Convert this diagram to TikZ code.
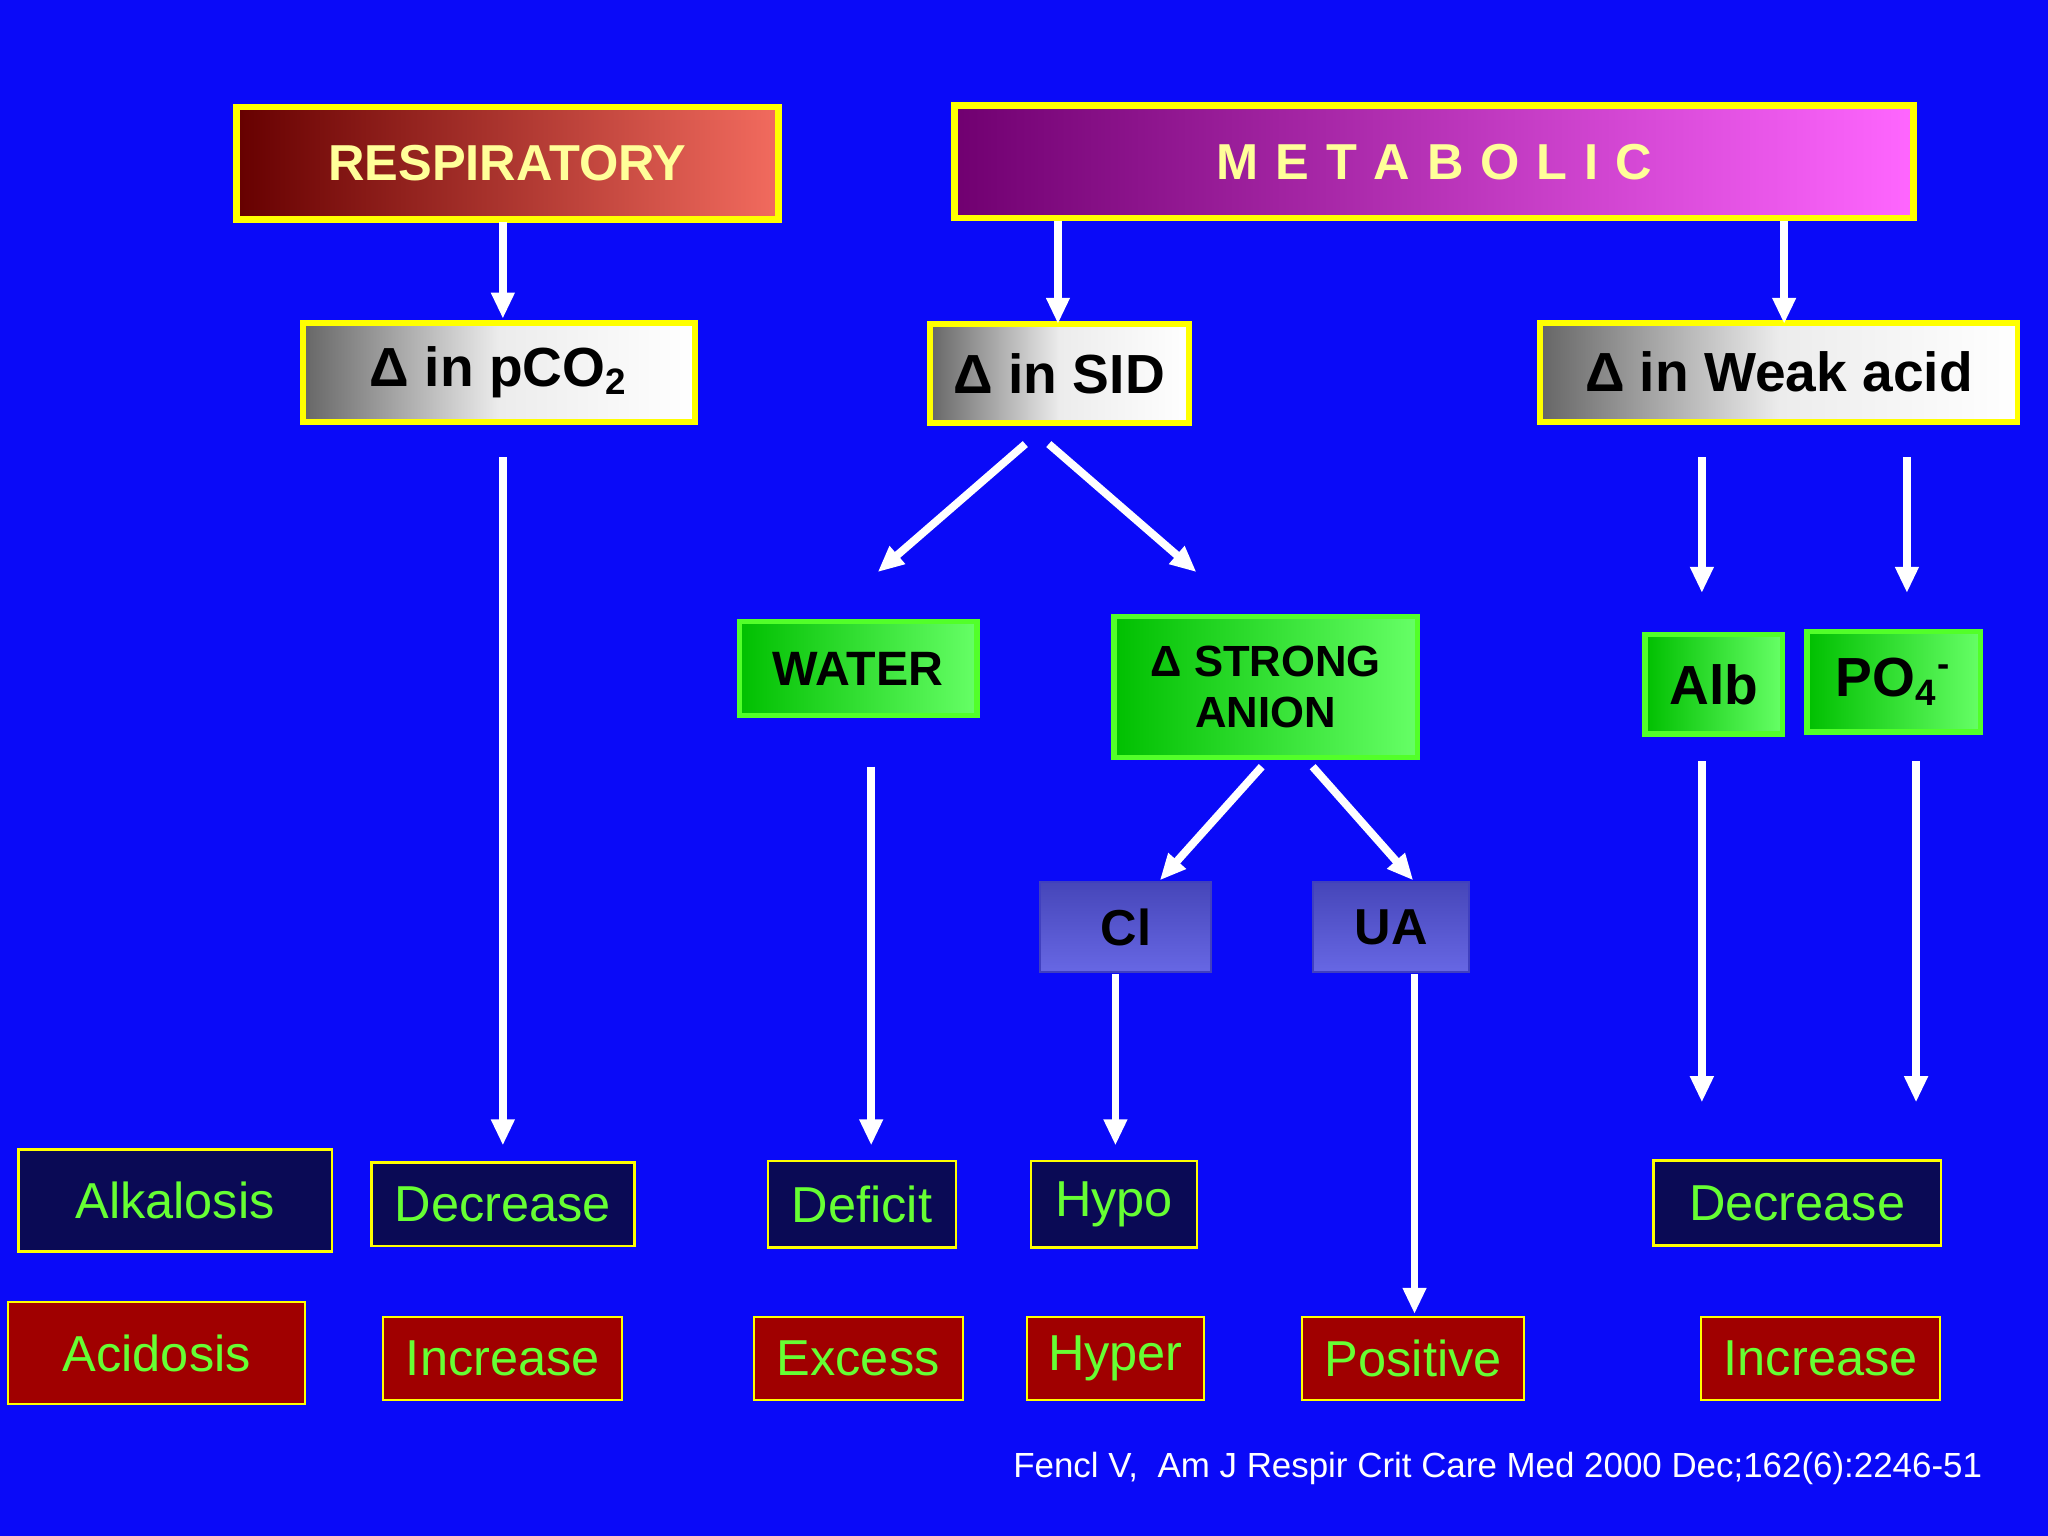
\documentclass[tikz,border=0pt]{standalone}
\usepackage{fontspec}
\setmainfont{Liberation Sans}
\usetikzlibrary{arrows.meta}
\definecolor{bg}{HTML}{0A0AF8}
\definecolor{ylw}{HTML}{FFFF00}
\definecolor{pale}{HTML}{FFFF99}
\definecolor{grn}{HTML}{66FF33}
\definecolor{navy}{HTML}{0A0A55}
\definecolor{dred}{HTML}{A00000}
\begin{document}
\begin{tikzpicture}[x=0.01cm,y=-0.01cm,
  hdr/.style={draw=ylw,line width=0.5mm,font=\bfseries\fontsize{11}{12}\selectfont,text=pale},
  gray/.style={draw=ylw,line width=0.45mm,left color=gray!80!black,right color=white,middle color=white!85!gray,font=\bfseries\fontsize{12}{13}\selectfont,text=black},
  gbox/.style={draw=grn!80!green,line width=0.4mm,left color=green!75!black,right color=green!60!white,font=\bfseries\fontsize{10.5}{12}\selectfont,text=black,align=center},
  bbox/.style={draw=blue!50!gray,line width=0.15mm,top color=blue!45!gray,bottom color=blue!70!gray!70!white,font=\bfseries\fontsize{11}{12}\selectfont,text=black},
  nbox/.style={draw=ylw,line width=0.2mm,fill=navy,text=grn,font=\fontsize{11}{12}\selectfont},
  rbox/.style={draw=ylw,line width=0.15mm,fill=dred,text=grn,font=\fontsize{11}{12}\selectfont},
  arr/.style={draw=white,line width=0.6mm,-{Triangle[length=2mm,width=1.7mm]}}]
\fill[bg] (0,0) rectangle (1568,1176);
\path[use as bounding box] (0,0) rectangle (1568,1176);
% headers
\node[hdr,left color=red!40!black,right color=red!60!white!80!brown,minimum width=4.15cm,minimum height=0.86cm] (resp) at (388.5,125) {RESPIRATORY};
\node[hdr,left color=violet!60!black!80!magenta,right color=magenta!60!white,minimum width=7.34cm,minimum height=0.86cm] (meta) at (1098,124) {M\,\,E\,\,T\,\,A\,\,B\,\,O\,\,L\,\,I\,\,C};
\node[gray,minimum width=3.0cm,minimum height=0.76cm] (pco) at (382,285) {Δ in pCO\textsubscript{2}};
\node[gray,minimum width=1.98cm,minimum height=0.76cm] (sid) at (811,286) {Δ in SID};
\node[gray,minimum width=3.65cm,minimum height=0.76cm] (weak) at (1362,285) {Δ in Weak acid};
\node[gbox,minimum width=1.82cm,minimum height=0.72cm] (water) at (657,512) {WATER};
\node[gbox,minimum width=2.32cm,minimum height=1.08cm,font=\bfseries\fontsize{9.5}{11}\selectfont] (sa) at (969,526) {Δ STRONG\\ANION};
\node[gbox,minimum width=1.05cm,minimum height=0.76cm,font=\bfseries\fontsize{12}{13}\selectfont] (alb) at (1312,524) {Alb};
\node[gbox,minimum width=1.33cm,minimum height=0.77cm,font=\bfseries\fontsize{12}{13}\selectfont] (po) at (1450,522) {PO\textsubscript{4}\textsuperscript{-}};
\node[bbox,minimum width=1.31cm,minimum height=0.69cm] (cl) at (862,710) {Cl};
\node[bbox,minimum width=1.2cm,minimum height=0.69cm] (ua) at (1065,710) {UA};
% bottom
\node[nbox,minimum width=2.4cm,minimum height=0.78cm] (alk) at (134,919) {Alkalosis};
\node[nbox,minimum width=2.01cm,minimum height=0.64cm] (dec1) at (385,922) {Decrease};
\node[nbox,minimum width=1.44cm,minimum height=0.66cm] (def) at (660,922) {Deficit};
\node[nbox,minimum width=1.27cm,minimum height=0.66cm] (hypo) at (853,922) {Hypo};
\node[nbox,minimum width=2.2cm,minimum height=0.65cm] (dec2) at (1376,921) {Decrease};
\node[rbox,minimum width=2.27cm,minimum height=0.78cm] (acid) at (120,1036) {Acidosis};
\node[rbox,minimum width=1.83cm,minimum height=0.63cm] (inc1) at (385,1040) {Increase};
\node[rbox,minimum width=1.6cm,minimum height=0.63cm] (exc) at (657,1040) {Excess};
\node[rbox,minimum width=1.36cm,minimum height=0.63cm] (hyper) at (854,1040) {Hyper};
\node[rbox,minimum width=1.7cm,minimum height=0.63cm] (pos) at (1082,1040) {Positive};
\node[rbox,minimum width=1.83cm,minimum height=0.63cm] (inc2) at (1394,1040) {Increase};
\node[anchor=east,text=white,font=\fontsize{7.6}{8}\selectfont] (cite) at (1530,1124) {Fencl V,\ \ Am J Respir Crit Care Med 2000 Dec;162(6):2246-51};
% arrow endpoints
\coordinate (a1) at (385,170); \coordinate (a1e) at (385,244);
\coordinate (a2) at (810,169); \coordinate (a2e) at (810,248);
\coordinate (a3) at (1366,169); \coordinate (a3e) at (1366,248);
\coordinate (b1) at (385,350); \coordinate (b1e) at (385,877);
\coordinate (c1) at (785,340); \coordinate (c1e) at (672,438);
\coordinate (c2) at (803,340); \coordinate (c2e) at (916,438);
\coordinate (d1) at (1303,350); \coordinate (d1e) at (1303,454);
\coordinate (d2) at (1460,350); \coordinate (d2e) at (1460,454);
\coordinate (e1) at (667,587); \coordinate (e1e) at (667,877);
\coordinate (f1) at (966,587); \coordinate (f1e) at (888,674);
\coordinate (f2) at (1005,587); \coordinate (f2e) at (1082,674);
\coordinate (g1) at (854,746); \coordinate (g1e) at (854,877);
\coordinate (g2) at (1083,746); \coordinate (g2e) at (1083,1006);
\coordinate (h1) at (1303,583); \coordinate (h1e) at (1303,844);
\coordinate (h2) at (1467,583); \coordinate (h2e) at (1467,844);
\foreach \s in {a1,a2,a3,b1,c1,c2,d1,d2,e1,f1,f2,g1,g2,h1,h2}
  \draw[arr] (\s) -- (\s e);
\end{tikzpicture}
\end{document}
